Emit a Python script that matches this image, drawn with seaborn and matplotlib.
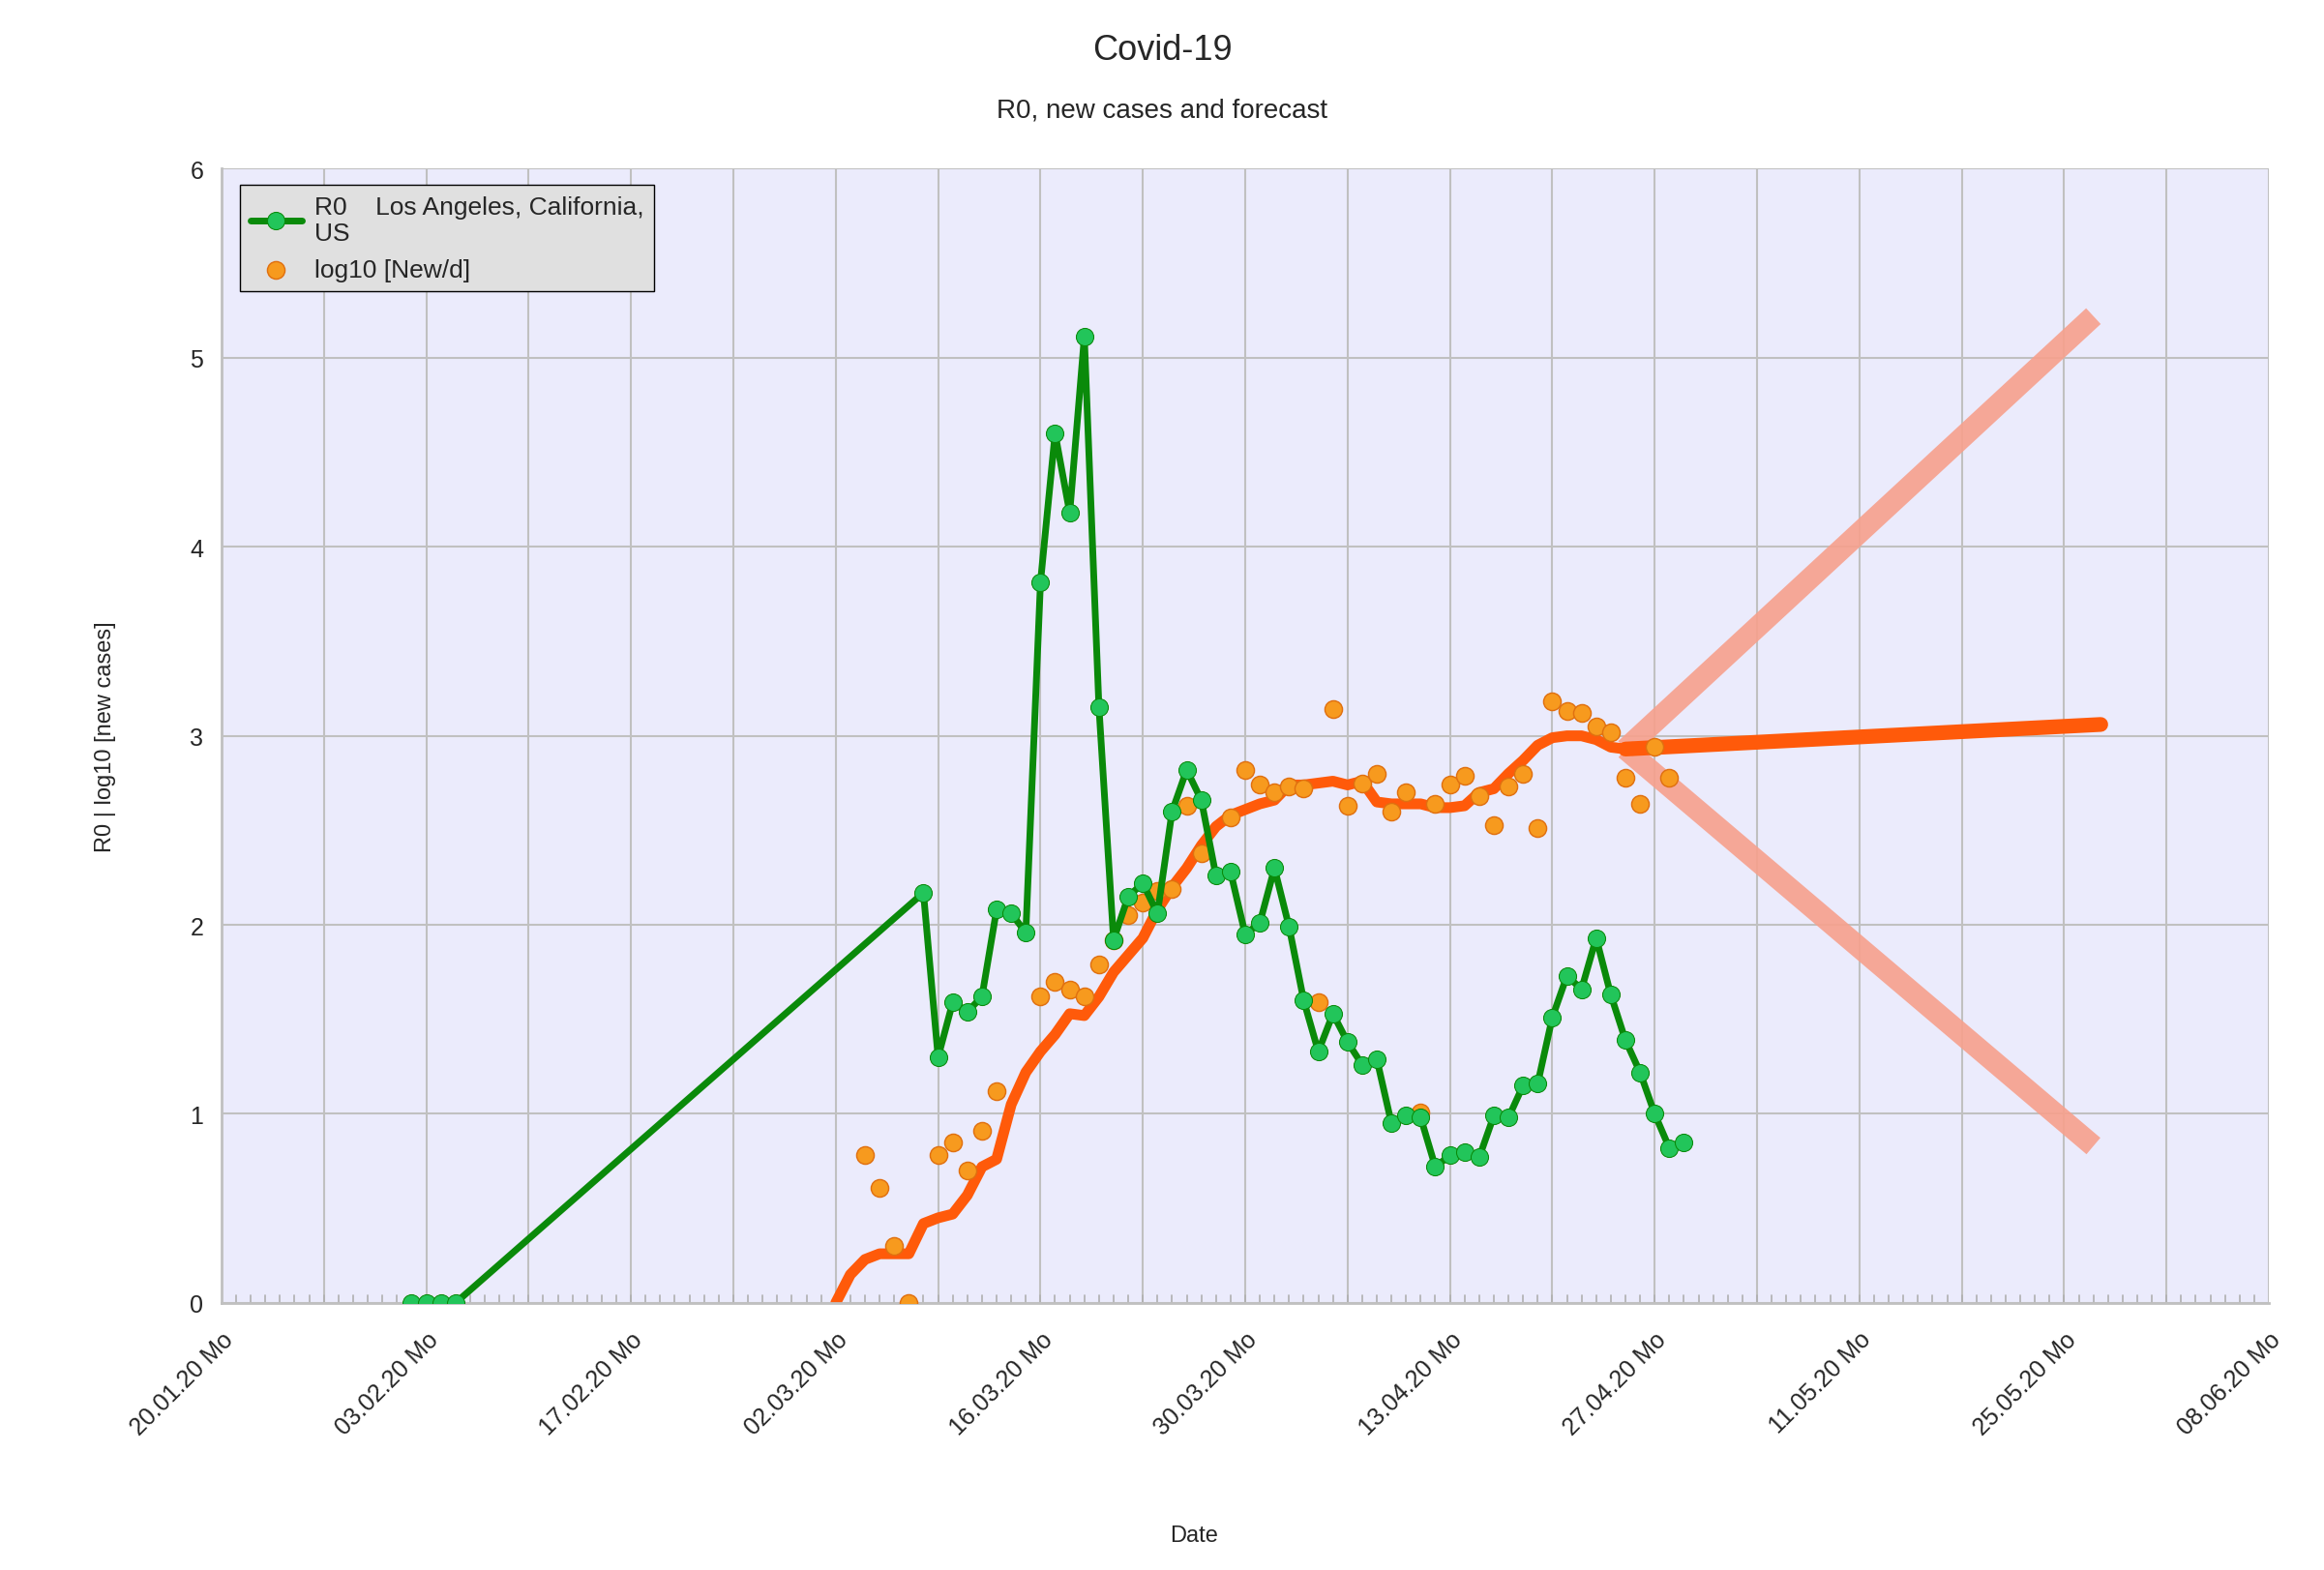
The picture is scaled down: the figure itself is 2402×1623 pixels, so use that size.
import numpy as np
import pandas as pd
import seaborn as sns
import matplotlib.pyplot as plt
from matplotlib.ticker import MultipleLocator

start = pd.Timestamp("2020-01-20")

# R0, day offset from 20.01.20
r0_days = [13, 14, 15, 16] + list(range(48, 101))
r0_vals = [0, 0, 0, 0,
           2.17, 1.30, 1.59, 1.54, 1.62, 2.08, 2.06, 1.96, 3.81, 4.60, 4.18, 5.11,
           3.15, 1.92, 2.15, 2.22, 2.06, 2.60, 2.82, 2.66, 2.26, 2.28, 1.95, 2.01,
           2.30, 1.99, 1.60, 1.33, 1.53, 1.38, 1.26, 1.29, 0.95, 0.99, 0.98, 0.72,
           0.78, 0.80, 0.77, 0.99, 0.98, 1.15, 1.16, 1.51, 1.73, 1.66, 1.93, 1.63,
           1.39, 1.22, 1.00, 0.82, 0.85]

# log10 new cases per day
new_days = [44, 45, 46, 47, 49, 50, 51, 52, 53, 56, 57, 58, 59, 60, 61, 62, 63, 64,
            65, 66, 67, 69, 70, 71, 72, 73, 74, 75, 76, 77, 78, 79, 80, 81, 82, 83,
            84, 85, 86, 87, 88, 89, 90, 91, 92, 93, 94, 95, 96, 97, 98, 99]
new_vals = [0.78, 0.61, 0.30, 0.00, 0.78, 0.85, 0.70, 0.91, 1.12, 1.62, 1.70, 1.66,
            1.62, 1.79, 1.92, 2.05, 2.12, 2.18, 2.19, 2.63, 2.38, 2.57, 2.82, 2.74,
            2.70, 2.73, 2.72, 1.59, 3.14, 2.63, 2.75, 2.80, 2.60, 2.70, 1.01, 2.64,
            2.74, 2.79, 2.68, 2.53, 2.73, 2.80, 2.51, 3.18, 3.13, 3.12, 3.05, 3.02,
            2.78, 2.64, 2.94, 2.78]

# smoothed trend
trend_days = list(range(42, 97))
trend_vals = [0.00, 0.15, 0.23, 0.26, 0.26, 0.26, 0.42, 0.45, 0.47, 0.57, 0.72, 0.76,
              1.05, 1.22, 1.33, 1.42, 1.53, 1.52, 1.62, 1.75, 1.84, 1.93, 2.08, 2.20,
              2.30, 2.42, 2.52, 2.58, 2.61, 2.64, 2.66, 2.74, 2.74, 2.75, 2.76, 2.74,
              2.76, 2.65, 2.64, 2.64, 2.64, 2.62, 2.62, 2.63, 2.70, 2.72, 2.80, 2.87,
              2.95, 2.99, 3.00, 3.00, 2.98, 2.94, 2.93]

# forecast
fc_days = [96, 128.5]
fc_vals = [2.93, 3.06]
fan_days = [96, 128]
fan_hi = [2.93, 5.22]
fan_lo = [2.93, 0.83]

sns.set_style("whitegrid")
plt.rcParams["font.family"] = ["Liberation Sans", "DejaVu Sans"]

fig = plt.figure(figsize=(24.02, 16.24), dpi=100)
ax = fig.add_axes([0.0953, 0.170, 0.881, 0.722])
ax.set_facecolor("#ebebfc")

ax.plot(fan_days, fan_hi, color="#f7a08c", lw=16, alpha=0.9, solid_capstyle="butt", zorder=1)
ax.plot(fan_days, fan_lo, color="#f7a08c", lw=16, alpha=0.9, solid_capstyle="butt", zorder=1)
ax.plot(fc_days, fc_vals, color="#ff5a0a", lw=11, zorder=2)
sns.lineplot(x=trend_days, y=trend_vals, ax=ax, color="#ff5a0a", lw=8, zorder=2)
sns.scatterplot(x=new_days, y=new_vals, ax=ax, color="#f79a1e", edgecolor="#e07010",
                s=170, zorder=3, label="log10 [New/d]")
sns.lineplot(x=r0_days, y=r0_vals, ax=ax, color="#0a8a0a", lw=5, marker="o",
             markersize=13, markerfacecolor="#22c55a", markeredgecolor="#0a8a0a",
             zorder=4, label="R0    Los Angeles, California,\nUS")

ax.set_xlim(0, 140)
ax.set_ylim(0, 6)
ax.xaxis.set_minor_locator(MultipleLocator(7))
ax.grid(True, which="both", axis="x", color="#c0c0c0", lw=1.5)
ax.grid(True, which="major", axis="y", color="#c0c0c0", lw=1.5)
ticks = np.arange(0, 141, 14)
ax.set_xticks(ticks)
ax.set_xticklabels([(start + pd.Timedelta(days=int(d))).strftime("%d.%m.%y") + " Mo" for d in ticks],
                   rotation=45, ha="right", rotation_mode="anchor", fontsize=18)
ax.tick_params(axis="y", labelsize=18, length=10, color="#c0c0c0", width=1.5)
ax.tick_params(axis="x", which="major", length=10, color="#c0c0c0", width=1.5, pad=8)
ax.tick_params(axis="x", which="minor", length=0)
for d in range(1, 140):
    ax.plot([d, d], [0, 0.04], color="#b0b0b0", lw=1.2, zorder=1)
for s in ax.spines.values():
    s.set_visible(False)
ax.spines["bottom"].set_visible(True)
ax.spines["bottom"].set_color("#c0c0c0")
ax.spines["bottom"].set_linewidth(2)
ax.spines["left"].set_visible(True)
ax.spines["left"].set_color("#c0c0c0")
ax.spines["left"].set_linewidth(2)

ax.set_xlabel("Date", fontsize=17, labelpad=45)
ax.xaxis.set_label_coords(0.475, -0.195)
ax.set_ylabel("R0 | log10 [new cases]", fontsize=17, labelpad=55)
fig.text(0.5, 0.962, "Covid-19", ha="center", fontsize=26)
fig.text(0.5, 0.925, "R0, new cases and forecast", ha="center", fontsize=20)

h, l = ax.get_legend_handles_labels()
leg = ax.legend(h[::-1], l[::-1], loc="upper left", fontsize=19, frameon=True,
                fancybox=False, edgecolor="black", facecolor="#e0e0e0",
                bbox_to_anchor=(0.003, 0.997), borderpad=0.4, handletextpad=0.5)
leg.get_frame().set_alpha(1)

fig.savefig("out.png", dpi=100)
